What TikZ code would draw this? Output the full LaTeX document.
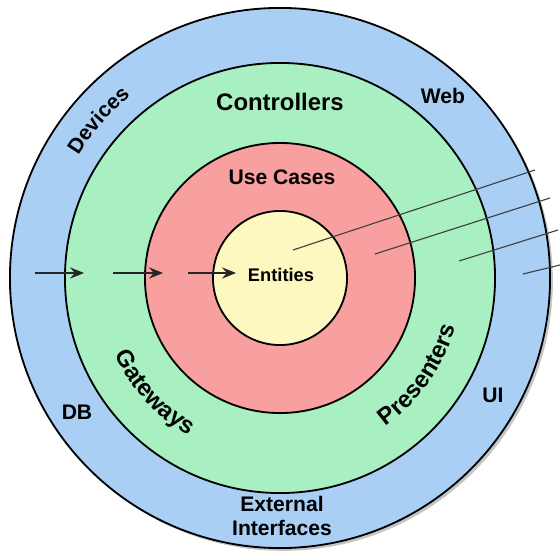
\documentclass[tikz,border=0pt]{standalone}
\usepackage{fontspec}
\setmainfont{Liberation Sans}
\usetikzlibrary{arrows.meta, decorations.text, shadows}

\definecolor{extBlue}{HTML}{A9CFF5}
\definecolor{adapterGreen}{HTML}{A8F0C2}
\definecolor{caseRed}{HTML}{F8A0A0}
\definecolor{entityYellow}{HTML}{FDF8C0}

\newcommand\bigLabel{\bfseries\fontsize{17}{20}\selectfont}
\newcommand\midLabel{\bfseries\fontsize{15}{18}\selectfont}
\newcommand\smallLabel{\bfseries\fontsize{13}{16}\selectfont}

\tikzstyle{ringLayer} = [draw, circle, line width=1.3pt, inner sep=0]
\tikzstyle{layerLabel} = [inner sep=0, align=center]
\tikzstyle{depArrow} = [thick, black!85, -{Stealth[length=10pt, width=8pt, inset=3.5pt]}]
\tikzstyle{flowLine} = [thick, black!75]

\begin{document}
\begin{tikzpicture}[x=0.025cm, y=0.025cm]
  \useasboundingbox (0,0) rectangle (560,560);
  \coordinate (c) at (280,282);

  % rings, outside in
  \node[ringLayer, fill=extBlue, minimum size=13.5cm,
    drop shadow={shadow xshift=2pt, shadow yshift=-2pt, fill=black!45, opacity=0.5}] (ext) at (c) {};
  \node[ringLayer, fill=adapterGreen, minimum size=10.75cm] (adapt) at (c) {};
  \node[ringLayer, fill=caseRed, minimum size=6.75cm] (cases) at (c) {};
  \node[ringLayer, fill=entityYellow, minimum size=3.35cm] (ent) at (c) {};

  % straight labels
  \node[layerLabel, font=\bigLabel] (ctrl) at (280,458) {Controllers};
  \node[layerLabel, font=\midLabel] (uc) at (282,383) {Use Cases};
  \node[layerLabel, font=\smallLabel] (entLbl) at (281,285) {Entities};
  \node[layerLabel, font=\midLabel] (web) at (443,464) {Web};
  \node[layerLabel, font=\midLabel] (db) at (77,148) {DB};
  \node[layerLabel, font=\midLabel] (ui) at (493,165) {UI};
  \node[layerLabel, font=\midLabel] (extIf) at (282,44) {External\\[-1pt]Interfaces};

  % curved labels
  \path[decorate, decoration={text along path, text align=center,
    text={|\bigLabel|Gateways}}] (c) ++(200:182) arc[start angle=200, end angle=245, radius=182];
  \path[decorate, decoration={text along path, text align=center,
    text={|\bigLabel|Presenters}}] (c) ++(300:182) arc[start angle=300, end angle=350, radius=182];
  \path[decorate, decoration={text along path, text align=center,
    text={|\midLabel|Devices}}] (c) ++(162:236) arc[start angle=162, end angle=116, radius=236];

  % dependency arrows
  \coordinate (in1) at (35,287);
  \coordinate (to1) at (84,287);
  \coordinate (in2) at (113,287);
  \coordinate (to2) at (163,287);
  \coordinate (in3) at (188,287);
  \coordinate (to3) at (236,287);
  \draw[depArrow] (in1) -- (to1);
  \draw[depArrow] (in2) -- (to2);
  \draw[depArrow] (in3) -- (to3);

  % lines into the layers
  \coordinate (l1s) at (293,310);
  \coordinate (l1e) at (535,390);
  \coordinate (l2s) at (375,306);
  \coordinate (l2e) at (550,362);
  \coordinate (l3s) at (459,299);
  \coordinate (l3e) at (558,330);
  \coordinate (l4s) at (523,286);
  \coordinate (l4e) at (560,295);
  \draw[flowLine] (l1s) -- (l1e);
  \draw[flowLine] (l2s) -- (l2e);
  \draw[flowLine] (l3s) -- (l3e);
  \draw[flowLine] (l4s) -- (l4e);
\end{tikzpicture}
\end{document}
